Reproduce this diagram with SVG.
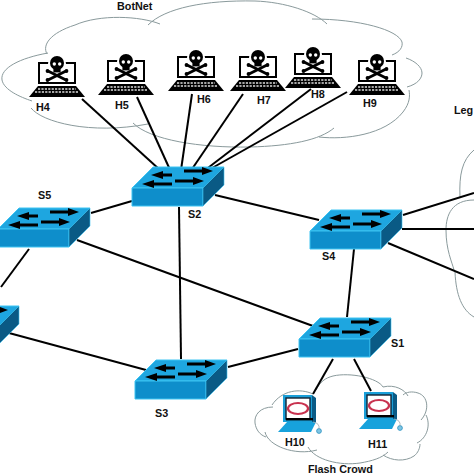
<svg xmlns="http://www.w3.org/2000/svg" xmlns:xlink="http://www.w3.org/1999/xlink" width="474" height="474" viewBox="0 0 474 474">
<style>
.cloud{fill:none;stroke:#8a9a9c;stroke-width:1}
.link{fill:none;stroke:#000;stroke-width:2}
text{font-family:"Liberation Sans",Arial,sans-serif;font-weight:700;font-size:10.8px;fill:#111}
</style>
<defs>
<g id="switch">
<polygon points="0,0 21,-21 92,-21 71,0" fill="#1ea6e0" stroke="#3cc4f2" stroke-width="1"/>
<polygon points="0,0 71,0 71,18 0,18" fill="#0e8ecb" stroke="#3cc4f2" stroke-width="1"/>
<polygon points="71,0 92,-21 92,-3 71,18" fill="#0a5a85" stroke="#3cc4f2" stroke-width="0.6"/>
<path d="M30 -13H40M52 -17H72M19 -4H40M43 -7H63" stroke="#000" stroke-width="3" fill="none"/>
<polygon points="19,-13 31,-17 31,-9"/>
<polygon points="81,-17 70,-21 70,-13"/>
<polygon points="10,-4 22,-8 22,0"/>
<polygon points="72,-7 61,-11 61,-3"/>
</g>
<g id="bot">
<rect x="-18" y="0" width="36" height="20" fill="#fff" stroke="#000" stroke-width="2"/>
<circle cx="0" cy="1" r="9" fill="#fff"/>
<polygon points="-19,23 19,23 28,34 -28,34" fill="#000"/>
<path d="M-19 26H19M-22 29H22" stroke="#ddd" stroke-width="1.4" stroke-dasharray="2.2 1.2" fill="none"/>
<path d="M-9 8L9 17M9 8L-9 17" stroke="#000" stroke-width="2.8"/>
<circle cx="-9.5" cy="8" r="1.9"/><circle cx="9.5" cy="8" r="1.9"/><circle cx="-9.5" cy="17" r="1.9"/><circle cx="9.5" cy="17" r="1.9"/>
<circle cx="0" cy="0" r="7"/>
<rect x="-3.6" y="4" width="7.2" height="5.4"/>
<circle cx="-2.7" cy="1" r="1.7" fill="#fff"/><circle cx="2.7" cy="1" r="1.7" fill="#fff"/>
</g>
<g id="pc">
<polygon points="0,0 29,0 33,3 33,27 4,27" fill="#0a5a85"/>
<rect x="0" y="0" width="29" height="27" fill="#1a9fd8"/>
<rect x="3" y="3" width="24" height="21" fill="#fff" stroke="#123" stroke-width="1.4"/>
<rect x="3" y="23" width="27" height="2.4" fill="#000"/>
<ellipse cx="15" cy="13.5" rx="10" ry="5.5" fill="none" stroke="#c8324f" stroke-width="2.2"/>
<polygon points="4,27 33,27 28,37 -5,37" fill="#17a2dc"/>
<circle cx="36" cy="36" r="2.4" fill="#7fc6e4" stroke="#2a8fbf" stroke-width="0.8"/>
<path d="M30 27Q37 28 36 34" fill="none" stroke="#9aaab0" stroke-width="0.8"/>
</g>
</defs>
<g id="clouds">
<path class="cloud" d="M160 24C140 16 100 14 75 25C50 33 42 45 47 54"/>
<path class="cloud" d="M48 53C20 58 0 68 2 80C4 90 20 97 32 101"/>
<path class="cloud" d="M31 108C42 122 90 135 148 124"/>
<path class="cloud" d="M133 123C150 140 200 148 250 147C290 146 320 140 334 128"/>
<path class="cloud" d="M319 137C345 140 385 135 403 112C410 103 410 96 409 90"/>
<path class="cloud" d="M407 87C418 84 422 78 422 73C422 67 415 61 406 58"/>
<path class="cloud" d="M392 55C400 52 403 47 402 42C398 30 360 19 312 19"/>
<path class="cloud" d="M327 24C315 12 285 2 255 1C205 0 165 8 148 25"/>
<path class="cloud" d="M474 150C462 160 459 175 460 197"/>
<path class="cloud" d="M474 200C452 200 446 215 446 230C446 250 452 262 454 270"/>
<path class="cloud" d="M455 272C456 295 462 310 474 317"/>
<path class="cloud" d="M313 394C300 388 282 390 272 405"/>
<path class="cloud" d="M273 407C260 407 254 415 255 423C256 430 260 435 266 437"/>
<path class="cloud" d="M265 432C268 446 295 456 317 450"/>
<path class="cloud" d="M308 447C315 460 340 466 360 463C372 461 382 458 388 452"/>
<path class="cloud" d="M383 455C392 461 405 462 414 456C418 453 420 448 420 444"/>
<path class="cloud" d="M417 443C427 438 431 425 426 415"/>
<path class="cloud" d="M421 420C430 410 428 396 418 393C412 391 406 392 403 395"/>
<path class="cloud" d="M408 396C405 390 395 384 383 387C378 378 350 372 333 376C325 378 320 382 316 390"/>
</g>
<g id="connectors">
<path class="link" d="M82 99L160 170"/>
<path class="link" d="M137 97L171 172"/>
<path class="link" d="M192 94L181 170"/>
<path class="link" d="M243 94L190 172"/>
<path class="link" d="M311 89L200 174"/>
<path class="link" d="M347 92L205 172"/>
<path class="link" d="M91 213L132 201"/>
<path class="link" d="M77 240L313 326"/>
<path class="link" d="M179 207L181 359"/>
<path class="link" d="M215 195L319 220"/>
<path class="link" d="M354 249L347 317"/>
<path class="link" d="M403 215L474 193"/>
<path class="link" d="M402 229L474 229"/>
<path class="link" d="M388 243L474 279"/>
<path class="link" d="M29 249L1 287"/>
<path class="link" d="M9 333L146 370"/>
<path class="link" d="M228 367L298 349"/>
<path class="link" d="M333 359L313 394"/>
<path class="link" d="M354 359L371 391"/>
</g>
<g id="S1"><use href="#switch" x="299" y="339"/><text x="391" y="347">S1</text></g>
<g id="S2"><use href="#switch" x="132" y="188"/><text x="188" y="218">S2</text></g>
<g id="S3"><use href="#switch" x="135" y="381"/><text x="155" y="417">S3</text></g>
<g id="S4"><use href="#switch" x="310" y="231"/><text x="322" y="260">S4</text></g>
<g id="S5"><use href="#switch" x="-2" y="229"/><text x="38" y="199">S5</text></g>
<g id="S6"><use href="#switch" x="-73" y="327"/></g>
<g id="H4"><use href="#bot" x="57" y="63"/><text x="36" y="111">H4</text></g>
<g id="H5"><use href="#bot" x="126" y="61"/><text x="115" y="109">H5</text></g>
<g id="H6"><use href="#bot" x="196" y="57"/><text x="197" y="103">H6</text></g>
<g id="H7"><use href="#bot" x="258" y="57"/><text x="257" y="104">H7</text></g>
<g id="H8"><use href="#bot" x="313" y="54"/><text x="311" y="98">H8</text></g>
<g id="H9"><use href="#bot" x="377" y="61"/><text x="363" y="107">H9</text></g>
<g id="H10"><use href="#pc" x="283" y="395"/><text x="285" y="446">H10</text></g>
<g id="H11"><use href="#pc" x="364" y="392"/><text x="368" y="448">H11</text></g>
<text x="117" y="10">BotNet</text>
<text x="454" y="114">Leg</text>
<text x="308" y="473">Flash Crowd</text>
</svg>
